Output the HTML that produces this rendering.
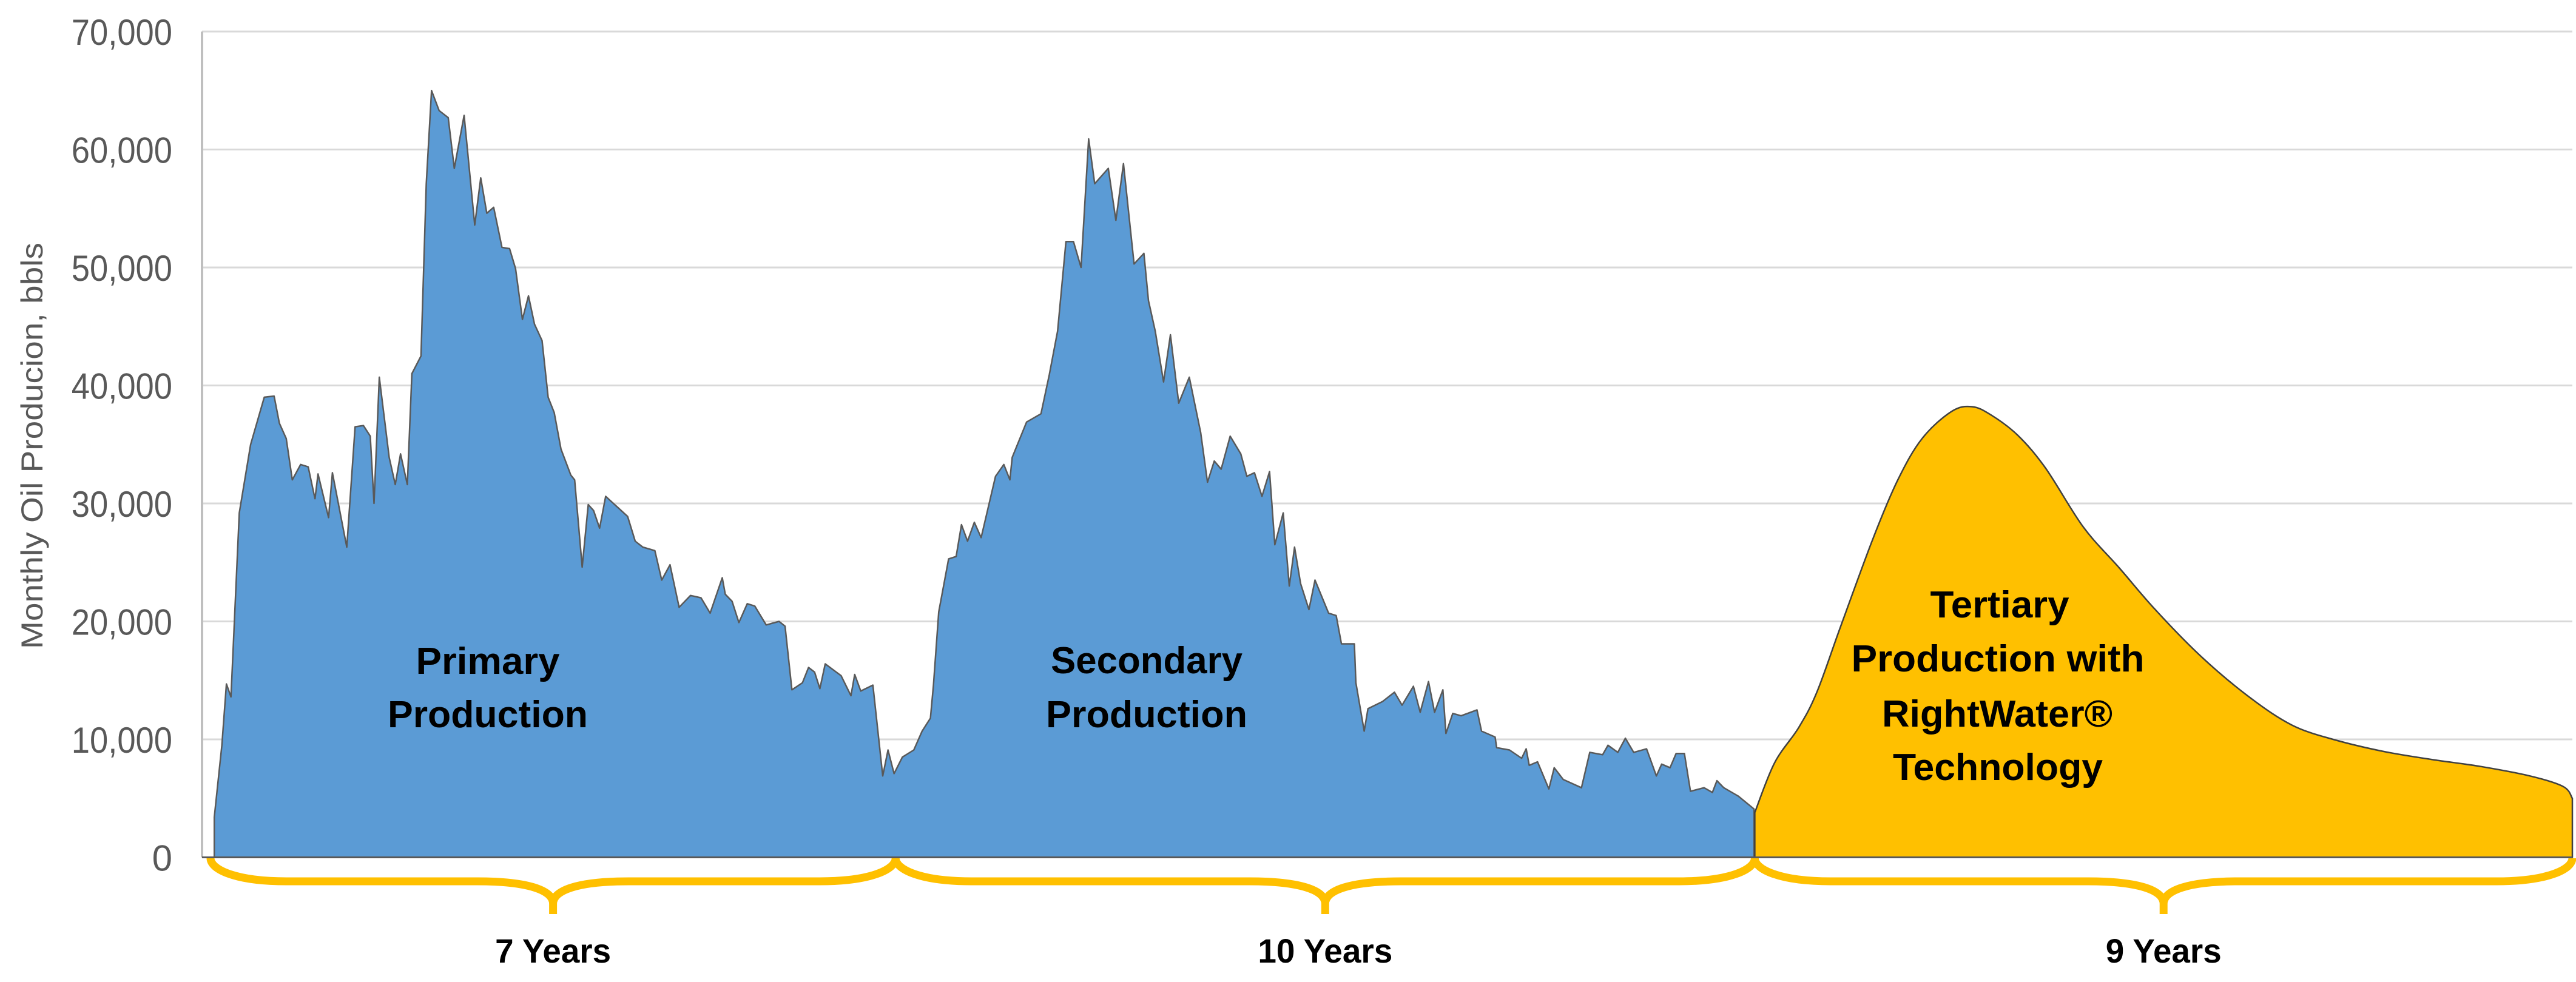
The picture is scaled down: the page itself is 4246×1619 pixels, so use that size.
<!DOCTYPE html>
<html><head><meta charset="utf-8"><style>
html,body{margin:0;padding:0;background:#fff;}
svg{display:block;}
text{font-family:"Liberation Sans",sans-serif;}
</style></head><body>
<svg id="chart" width="4246" height="1619" viewBox="0 0 4246 1619" xmlns="http://www.w3.org/2000/svg">
<g id="grid"></g>
<g id="yticks"></g>
<text transform="translate(70,735) rotate(-90)" text-anchor="middle" font-size="50" fill="#595959" textLength="670" lengthAdjust="spacingAndGlyphs">Monthly Oil Producion, bbls</text>
<g id="series"></g>
<g id="braces"></g>
<g id="labels" font-weight="bold" fill="#000"></g>
</svg>
<script>
// ---- data (x in months since start, y in thousand bbls) ----
const yTicks = [0,10000,20000,30000,40000,50000,60000,70000];
const yTickLabels = ["0","10,000","20,000","30,000","40,000","50,000","60,000","70,000"];
const blueMonths = [0.5,0.5,1.5,2.1,2.7,3.8,5.3,7.1,8.4,9.1,10.0,10.8,11.9,12.9,13.8,14.2,15.6,16.1,18.0,19.1,20.2,21.1,21.6,22.3,23.6,24.4,25.1,26.0,26.6,27.8,28.5,29.2,30.2,31.4,32.2,33.5,34.9,35.7,36.5,37.4,38.5,39.5,40.3,41.2,42.0,42.8,43.8,44.6,45.4,46.3,47.6,48.1,49.1,49.9,50.6,51.4,52.2,55.1,56.1,57.1,58.7,59.6,60.7,61.9,63.4,64.8,66.0,67.6,68.0,68.9,69.8,70.9,71.9,73.4,75.1,75.9,76.8,78.2,79.0,79.8,80.5,81.2,83.3,84.6,85.1,85.9,87.5,88.8,89.5,90.3,91.4,92.9,94.0,95.1,95.5,96.2,97.5,98.5,99.2,100.0,100.9,101.8,103.7,104.8,105.6,105.9,107.8,109.7,110.8,111.9,113.0,114.0,115.0,116.0,116.8,118.6,119.6,120.6,122.0,123.3,123.9,124.8,125.9,126.8,127.9,129.3,130.8,131.7,132.6,133.5,134.7,136.1,136.9,137.9,138.9,139.9,140.6,141.7,142.5,143.2,144.0,145.1,145.9,147.7,148.7,149.4,151.1,151.3,152.4,152.9,154.8,156.4,157.4,158.9,159.8,160.9,161.7,162.8,163.2,164.1,165.2,167.3,167.9,169.7,169.9,171.6,173.2,173.8,174.2,175.3,176.8,177.5,178.7,181.1,182.2,183.9,184.6,185.9,186.9,188.0,189.7,191.0,191.7,192.8,193.6,194.7,195.5,197.3,198.4,199.0,199.9,201.8,203.9,203.9];
const blueValues = [0,3.4,9.5,14.7,13.6,29.2,35.0,39.0,39.1,36.8,35.5,32.0,33.3,33.1,30.4,32.5,28.8,32.6,26.3,36.5,36.6,35.7,30.0,40.7,33.9,31.6,34.2,31.6,41.0,42.5,57.1,65.0,63.3,62.7,58.4,62.9,53.6,57.6,54.6,55.1,51.7,51.6,49.9,45.6,47.6,45.2,43.8,39.0,37.7,34.6,32.4,32.0,24.6,29.9,29.4,27.9,30.6,28.9,26.8,26.3,26.0,23.5,24.8,21.2,22.2,22.0,20.7,23.7,22.3,21.7,19.9,21.5,21.3,19.7,20.0,19.6,14.2,14.8,16.1,15.7,14.3,16.4,15.4,13.7,15.5,14.1,14.6,6.9,9.1,7.1,8.5,9.1,10.7,11.8,14.6,20.8,25.3,25.5,28.2,26.8,28.4,27.1,32.3,33.3,32.0,33.9,36.9,37.6,40.9,44.6,52.2,52.2,50.0,60.9,57.1,58.4,54.0,58.8,50.3,51.2,47.2,44.6,40.3,44.3,38.5,40.7,36.0,31.8,33.6,32.9,35.7,34.2,32.3,32.6,30.6,32.7,26.5,29.2,23.0,26.3,23.2,21.0,23.5,20.7,20.5,18.1,18.1,14.8,10.7,12.6,13.2,14.0,12.9,14.5,12.3,14.9,12.3,14.2,10.5,12.2,12.0,12.5,10.7,10.2,9.3,9.1,8.4,9.2,7.8,8.1,5.8,7.6,6.6,5.9,8.9,8.7,9.5,8.9,10.1,8.9,9.2,6.9,7.9,7.6,8.8,8.8,5.6,5.9,5.5,6.5,5.9,5.2,4.1,0];
const tertMonths = [204.0,206.6,209.8,212.2,215.3,219.6,222.9,226.1,230.0,232.7,235.2,238.7,242.4,247.4,252.2,256.9,263.0,269.5,275.0,280.4,286.9,293.4,299.9,306.4,310.8,312.0];
const tertValues = [3.8,8,11,14,19.5,27,32,35.5,37.8,38.2,37.5,35.8,33,28,24.5,21,17,13.5,11.2,10,9,8.3,7.7,6.9,6.0,5.0];
const periodStarts = [0,90.5,204];
const periodEnds = [90.5,204,312];
const periodLabels = ["7 Years","10 Years","9 Years"];

// ---- axes ----
const X0=347, X1=4240, M0=0, M1=312;
const Y0=1413.5, Y70=52;
const xs = m => X0 + (m-M0)/(M1-M0)*(X1-X0);
const ys = v => Y0 - v/70*(Y0-Y70);   // v in thousands
const NS="http://www.w3.org/2000/svg";
function mk(tag, attrs, parent){const e=document.createElementNS(NS,tag);for(const k in attrs)e.setAttribute(k,attrs[k]);parent.appendChild(e);return e;}

const grid=document.getElementById('grid');
const yt=document.getElementById('yticks');
yTicks.forEach((t,i)=>{
  const y=ys(t/1000);
  if(t>0){const l=mk('line',{x1:333,x2:4240,y1:y,y2:y,stroke:'#d9d9d9','stroke-width':3},grid);
    
    }
  const tx=mk('text',{x:284,y:y+22,'text-anchor':'end','font-size':60,fill:'#595959'},yt);
  if(yTickLabels[i].length>1){tx.setAttribute('textLength',yTickLabels[i].length*27.7);tx.setAttribute('lengthAdjust','spacingAndGlyphs');}
  tx.textContent=yTickLabels[i];
  
  
});
const ax=mk('line',{x1:333,x2:333,y1:Y70,y2:Y0,stroke:'#bfbfbf','stroke-width':4},grid);



const ser=document.getElementById('series');
let d='';
blueMonths.forEach((m,i)=>{d+=(i?'L':'M')+xs(m).toFixed(1)+','+ys(blueValues[i]).toFixed(1);});
d+='Z';
const blue=mk('path',{d:d,fill:'#5b9bd5',stroke:'#595959','stroke-width':2.5,'stroke-linejoin':'round'},ser);



// smooth tertiary curve (catmull-rom)
const pts=tertMonths.map((m,i)=>[xs(m),ys(tertValues[i])]);
let td='M'+xs(tertMonths[0]).toFixed(1)+','+ys(0).toFixed(1)+'L'+pts[0][0].toFixed(1)+','+pts[0][1].toFixed(1);
for(let i=0;i<pts.length-1;i++){
  const p0=pts[Math.max(0,i-1)],p1=pts[i],p2=pts[i+1],p3=pts[Math.min(pts.length-1,i+2)];
  const c1=[p1[0]+(p2[0]-p0[0])/6,p1[1]+(p2[1]-p0[1])/6];
  const c2=[p2[0]-(p3[0]-p1[0])/6,p2[1]-(p3[1]-p1[1])/6];
  td+='C'+c1.map(v=>v.toFixed(1)).join(',')+' '+c2.map(v=>v.toFixed(1)).join(',')+' '+p2.map(v=>v.toFixed(1)).join(',');
}
td+='L'+xs(tertMonths[tertMonths.length-1]).toFixed(1)+','+ys(0).toFixed(1)+'Z';
const tert=mk('path',{d:td,fill:'#ffc000',stroke:'#404040','stroke-width':2.5,'stroke-linejoin':'round'},ser);


const base=mk('line',{x1:333,x2:4240,y1:Y0,y2:Y0,stroke:'#595959','stroke-width':3},ser);



// braces
const br=document.getElementById('braces');
const lab=document.getElementById('labels');
periodStarts.forEach((s,i)=>{
  const a=xs(s), b=xs(periodEnds[i]), c=(a+b)/2, top=1415, h=1453, tip=1507, r=125;
  const pd=`M${a},${top} C${a},${h-20} ${a+40},${h} ${a+r},${h} L${c-r},${h} C${c-40},${h} ${c},${h+15} ${c},${h+37} L${c},${tip} M${c},${h+37} C${c},${h+15} ${c+40},${h} ${c+r},${h} L${b-r},${h} C${b-40},${h} ${b},${h-20} ${b},${top}`;
  const p=mk('path',{d:pd,fill:'none',stroke:'#ffc000','stroke-width':13},br);
  
  
  const t=mk('text',{x:c,y:1587,'text-anchor':'middle','font-size':56,textLength:periodLabels[i].length>7?222:191,lengthAdjust:'spacingAndGlyphs'},lab);
  t.textContent=periodLabels[i];
  
  
});
</script>
<script>
const L=document.getElementById('labels');
const NS2="http://www.w3.org/2000/svg";
const texts=[
 ["Primary",804,1111,237,'primary-label'],["Production",804,1199,330,'primary-label'],
 ["Secondary",1890,1110,316,'secondary-label'],["Production",1890,1199,332,'secondary-label'],
 ["Tertiary",3296,1018,229,'tertiary-label'],["Production with",3293,1107,483,'tertiary-label'],
 ["RightWater®",3292,1198,380,'tertiary-label'],["Technology",3293,1286,346,'tertiary-label']];
texts.forEach(r=>{
  const t=document.createElementNS(NS2,'text');
  t.setAttribute('x',r[1]);t.setAttribute('y',r[2]);t.setAttribute('text-anchor','middle');
  t.setAttribute('font-size','62');t.setAttribute('textLength',r[3]);t.setAttribute('lengthAdjust','spacingAndGlyphs');
  t.textContent=r[0];
  
  
  L.appendChild(t);
});
</script>
</body></html>
